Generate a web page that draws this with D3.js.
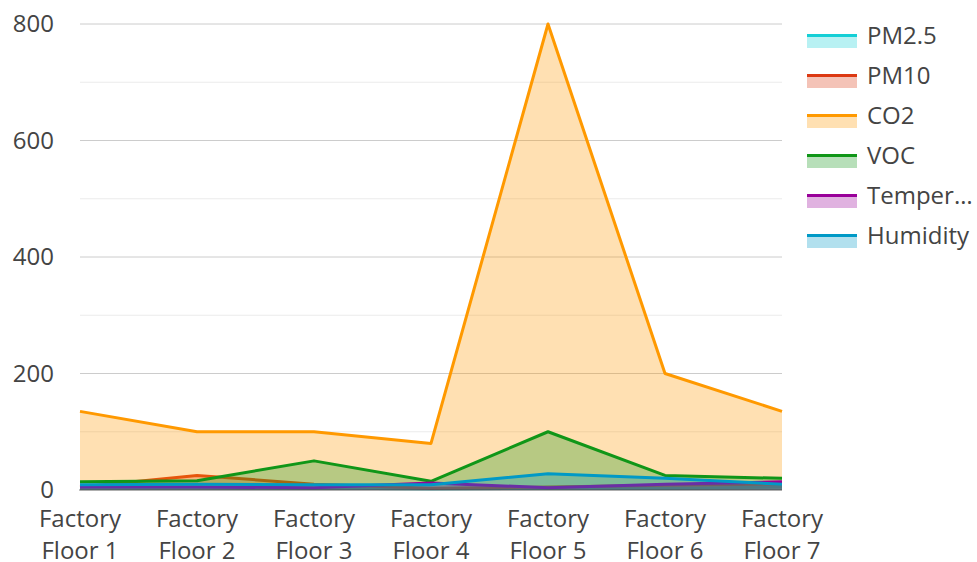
<!DOCTYPE html>
<html>
<head>
<meta charset="utf-8">
<script src="https://d3js.org/d3.v7.min.js"></script>
<style>
  body { margin: 0; background: #fff; }
  text { font-family: "Open Sans", "Noto Sans", sans-serif; fill: #444; }
</style>
</head>
<body>
<script>
var floors = ["Factory Floor 1", "Factory Floor 2", "Factory Floor 3", "Factory Floor 4",
              "Factory Floor 5", "Factory Floor 6", "Factory Floor 7"];

var seriesNames = ["PM2.5", "PM10", "CO2", "VOC", "Temperature", "Humidity"];
var legendLabels = ["PM2.5", "PM10", "CO2", "VOC", "Temper\u2026", "Humidity"];
var colors = ["#14cfd6", "#dc3912", "#ff9900", "#109618", "#990099", "#0099c6"];

var pm25 = [3, 4, 3, 2, 3, 3, 5];
var pm10 = [5, 25, 10, 3, 5, 8, 10];
var co2 = [135, 100, 100, 80, 800, 200, 135];
var voc = [14, 16, 50, 15, 100, 25, 20];
var temperature = [5, 5, 4, 12, 4, 10, 14];
var humidity = [9, 10, 9, 9, 28, 20, 10];

var yTicks = [0, 200, 400, 600, 800];
var yMinor = [100, 300, 500, 700];

var allSeries = [pm25, pm10, co2, voc, temperature, humidity];

var width = 977, height = 562;
var plotLeft = 80, plotRight = 782, plotTop = 24, plotBottom = 490;

var svg = d3.select("body").append("svg")
  .attr("width", width)
  .attr("height", height);

var x = d3.scalePoint().domain(floors).range([plotLeft, plotRight]);
var y = d3.scaleLinear().domain([0, 800]).range([plotBottom, plotTop]);

// gridlines
svg.append("g").selectAll("line")
  .data(yMinor).enter().append("line")
  .attr("x1", plotLeft).attr("x2", plotRight)
  .attr("y1", function(d){ return y(d); })
  .attr("y2", function(d){ return y(d); })
  .style("stroke", "#ebebeb");

svg.append("g").selectAll("line")
  .data(yTicks).enter().append("line")
  .attr("x1", plotLeft).attr("x2", plotRight)
  .attr("y1", function(d){ return y(d); })
  .attr("y2", function(d){ return y(d); })
  .style("stroke", "#cccccc");

// y labels
svg.append("g").selectAll("text")
  .data(yTicks).enter().append("text")
  .attr("x", 54)
  .attr("y", function(d){ return y(d); })
  .attr("dy", "0.35em")
  .attr("text-anchor", "end")
  .style("font-size", "24px")
  .text(function(d){ return d; });

// x labels
var xl = svg.append("g").selectAll("text")
  .data(floors).enter().append("text")
  .attr("x", function(d){ return x(d); })
  .attr("y", 527)
  .attr("text-anchor", "middle")
  .style("font-size", "24px");
xl.append("tspan")
  .attr("x", function(d){ return x(d); })
  .text(function(d){ return d.split(" ")[0]; });
xl.append("tspan")
  .attr("x", function(d){ return x(d); })
  .attr("dy", 32)
  .text(function(d){ return d.split(" ").slice(1).join(" "); });

var area = d3.area()
  .x(function(d, i){ return x(floors[i]); })
  .y0(y(0))
  .y1(function(d){ return y(d); });

var line = d3.line()
  .x(function(d, i){ return x(floors[i]); })
  .y(function(d){ return y(d); });

allSeries.forEach(function(vals, k) {
  svg.append("path")
    .attr("d", area(vals))
    .style("fill", colors[k])
    .style("fill-opacity", 0.3);
  svg.append("path")
    .attr("d", line(vals))
    .style("fill", "none")
    .style("stroke", colors[k])
    .style("stroke-width", 3)
    .style("stroke-linejoin", "round");
});

// baseline
svg.append("line")
  .attr("x1", plotLeft - 1).attr("x2", plotRight)
  .attr("y1", y(0)).attr("y2", y(0))
  .style("stroke", "#333")
  .style("stroke-width", 1)
  .style("stroke-opacity", 0.6);

// legend
var lg = svg.append("g").selectAll("g")
  .data(seriesNames).enter().append("g")
  .attr("transform", function(d, i){ return "translate(807," + (34 + i * 40) + ")"; });

lg.append("rect")
  .attr("width", 50).attr("height", 14)
  .style("fill", function(d, i){ return colors[i]; })
  .style("fill-opacity", 0.3);
lg.append("rect")
  .attr("width", 50).attr("height", 3)
  .style("fill", function(d, i){ return colors[i]; });
lg.append("text")
  .attr("x", 60)
  .attr("y", 10)
  .style("font-size", "24px")
  .text(function(d, i){ return legendLabels[i]; });
</script>
</body>
</html>
